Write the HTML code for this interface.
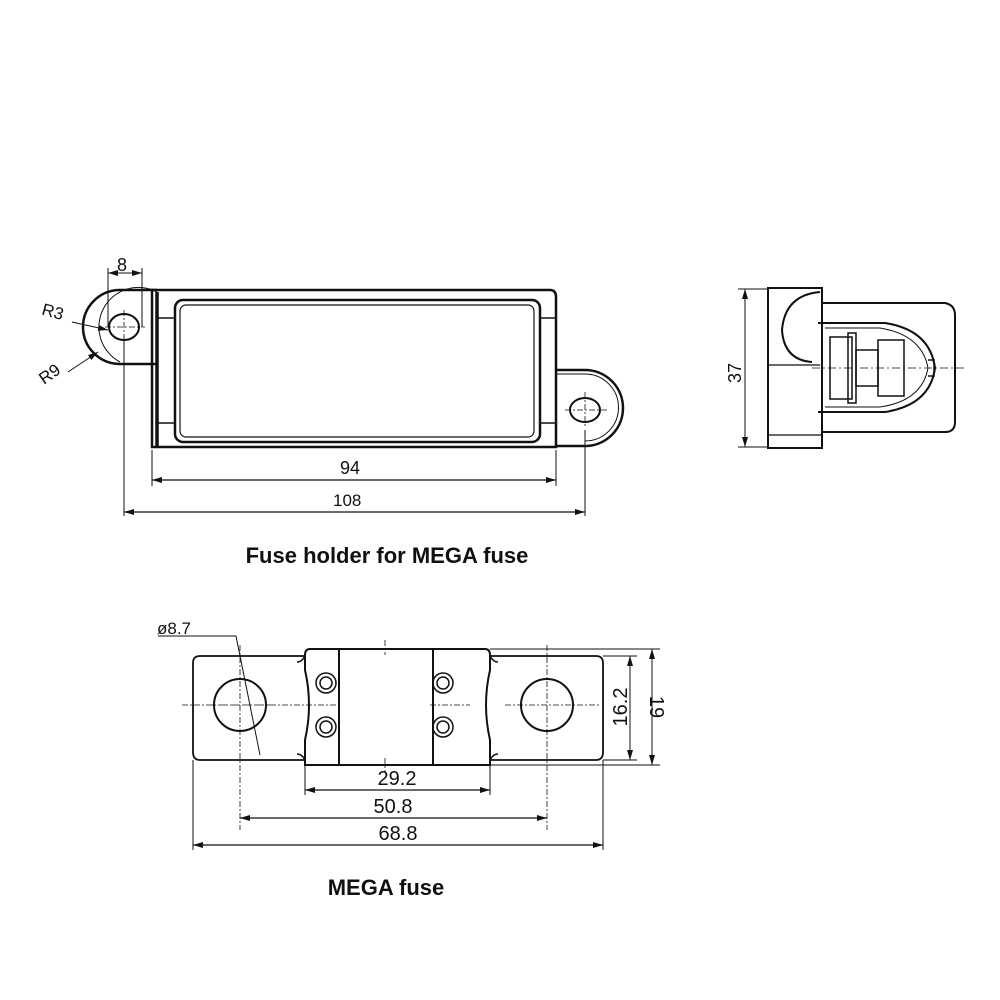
<!DOCTYPE html>
<html><head><style>body{margin:0;background:#fff}svg{display:block}</style></head><body>
<svg width="1000" height="1000" viewBox="0 0 1000 1000" xmlns="http://www.w3.org/2000/svg" font-family="Liberation Sans, sans-serif">
<defs>
<marker id="a" viewBox="0 0 10 6" refX="10" refY="3" markerWidth="10" markerHeight="6" orient="auto-start-reverse" markerUnits="userSpaceOnUse"><path d="M0 0 L10 3 L0 6 Z" fill="#111"/></marker>
</defs>
<g fill="none" stroke="#111" stroke-width="1.6">
<!-- top view holder -->
<path d="M157 290 H120 A37 37 0 0 0 120 364 H157" stroke-width="2.5"/>
<path d="M157 292 A35 35 0 0 0 120 362" stroke-width="1"/>
<ellipse cx="124" cy="327" rx="15" ry="13" stroke-width="2"/>
<path d="M152 290 H550 Q556 290 556 297 V447 H152 Z" stroke-width="2.5"/>
<path d="M157 292 V446" stroke-width="3.5"/>
<rect x="175" y="300" width="365" height="142" rx="8" stroke-width="2.5"/>
<rect x="180" y="305" width="354" height="132" rx="6" stroke-width="1.2"/>
<path d="M157 318 H175 M157 423 H175 M540 318 H556 M540 423 H556" />
<path d="M556 370 H585 A37 37 0 0 1 585 446 H556" stroke-width="2.5"/>
<path d="M556 374 H585 A33 33 0 0 1 585 441" stroke-width="1"/>
<ellipse cx="585" cy="410" rx="15" ry="12" stroke-width="2"/>
<path d="M565 410 H608 M585 392 V428 M105 327 H145 M124 310 V345" stroke-width="0.8" stroke-dasharray="6 2 2 2"/>
<!-- dims -->
<path d="M108 268 V327 M142 268 V327" stroke-width="1"/>
<path d="M108 273 H142" stroke-width="1" marker-start="url(#a)" marker-end="url(#a)"/>
<path d="M124 340 V516 M585 430 V516 M152 450 V486 M556 450 V486" stroke-width="1"/>
<path d="M152 480 H556" stroke-width="1.2" marker-start="url(#a)" marker-end="url(#a)"/>
<path d="M124 512 H585" stroke-width="1.2" marker-start="url(#a)" marker-end="url(#a)"/>
<path d="M72 322 L108 330" stroke-width="1" marker-end="url(#a)"/>
<path d="M68 372 L98 352" stroke-width="1" marker-end="url(#a)"/>
<!-- side view -->
<path d="M738 289 H768 M738 447 H768" stroke-width="1"/>
<path d="M745 289 V447" stroke-width="1" marker-start="url(#a)" marker-end="url(#a)"/>
<rect x="768" y="288" width="54" height="160" stroke-width="2"/>
<path d="M768 365 H820 M768 435 H822" stroke-width="1.2"/>
<path d="M820 292 Q785 295 782 330 Q784 360 812 362" stroke-width="2"/>
<path d="M822 303 H945 Q955 305 955 315 V422 Q955 432 945 432 H822" stroke-width="2"/>
<path d="M818 323 H885 Q930 330 935 368 Q930 405 885 412 H818" stroke-width="2"/>
<path d="M825 328 H880 Q922 335 928 368 Q922 401 880 407 H825" stroke-width="1"/>
<rect x="830" y="337" width="22" height="62" stroke-width="1.5"/>
<rect x="848" y="333" width="8" height="70" stroke-width="1.5"/>
<rect x="856" y="350" width="22" height="36" stroke-width="1.5"/>
<rect x="878" y="340" width="26" height="56" stroke-width="1.5"/>
<path d="M928 360 H934 V376 H928" stroke-width="1.5"/>
<path d="M812 368 H965" stroke-width="0.8" stroke-dasharray="8 3 2 3"/>
<!-- MEGA fuse -->
<path d="M305 656 H200 Q193 656 193 663 V752 Q193 760 200 760 H305" stroke-width="1.8"/>
<path d="M490 656 H596 Q603 656 603 663 V752 Q603 760 596 760 H490" stroke-width="1.8"/>
<path d="M305 656 q-3 6 -8 6 M305 760 q-3 -6 -8 -6 M490 656 q3 6 8 6 M490 760 q3 -6 8 -6" stroke-width="1.5"/>
<path d="M310 649 H485 Q490 649 490 655 V670 Q482 705 490 740 V765 H305 V740 Q313 705 305 670 V655 Q305 649 310 649 Z" stroke-width="2"/>
<path d="M339 649 V765 M433 649 V765" stroke-width="2"/>
<circle cx="240" cy="705" r="26" stroke-width="2"/>
<circle cx="547" cy="705" r="26" stroke-width="2"/>
<g stroke-width="1.5">
<circle cx="326" cy="683" r="10"/><circle cx="326" cy="683" r="6"/>
<circle cx="326" cy="727" r="10"/><circle cx="326" cy="727" r="6"/>
<circle cx="443" cy="683" r="10"/><circle cx="443" cy="683" r="6"/>
<circle cx="443" cy="727" r="10"/><circle cx="443" cy="727" r="6"/>
</g>
<path d="M182 705 H270 M210 705 H340 M430 705 H470 M505 705 H600 M240 645 V830 M547 645 V830 M385 640 V655 M385 758 V772" stroke-width="0.8" stroke-dasharray="6 2 2 2"/>
<path d="M158 636 H236 L260 755" stroke-width="1"/>
<path d="M305 765 V795 M490 765 V795 M193 760 V850 M603 760 V850" stroke-width="1"/>
<path d="M305 790 H490" stroke-width="1.2" marker-start="url(#a)" marker-end="url(#a)"/>
<path d="M240 818 H547" stroke-width="1.2" marker-start="url(#a)" marker-end="url(#a)"/>
<path d="M193 845 H603" stroke-width="1.2" marker-start="url(#a)" marker-end="url(#a)"/>
<path d="M603 656 H637 M603 760 H637 M490 649 H660 M490 765 H660" stroke-width="1"/>
<path d="M630 656 V760" stroke-width="1" marker-start="url(#a)" marker-end="url(#a)"/>
<path d="M652 649 V765" stroke-width="1" marker-start="url(#a)" marker-end="url(#a)"/>
</g>
<g font-size="17" fill="#111">
<text x="117" y="271" font-size="18">8</text>
<text x="42" y="318" font-size="17" transform="rotate(15 55 312)">R3</text>
<text x="38" y="378" font-size="17" transform="rotate(-35 52 372)">R9</text>
<text x="340" y="474" font-size="18">94</text>
<text x="333" y="506" font-size="17">108</text>
<text x="741" y="373" font-size="18" transform="rotate(-90 741 373)" text-anchor="middle">37</text>
<text x="157" y="634" font-size="17">ø8.7</text>
<text x="397" y="785" font-size="20" text-anchor="middle">29.2</text>
<text x="393" y="813" font-size="20" text-anchor="middle">50.8</text>
<text x="398" y="840" font-size="20" text-anchor="middle">68.8</text>
<text x="627" y="707" font-size="20" transform="rotate(-90 627 707)" text-anchor="middle">16.2</text>
<text x="650" y="707" font-size="20" transform="rotate(90 650 707)" text-anchor="middle">19</text>
</g>
<text x="387" y="563" font-size="22" font-weight="bold" text-anchor="middle" fill="#111">Fuse holder for MEGA fuse</text>
<text x="386" y="895" font-size="22" font-weight="bold" text-anchor="middle" fill="#111">MEGA fuse</text>
</svg>
</body></html>
